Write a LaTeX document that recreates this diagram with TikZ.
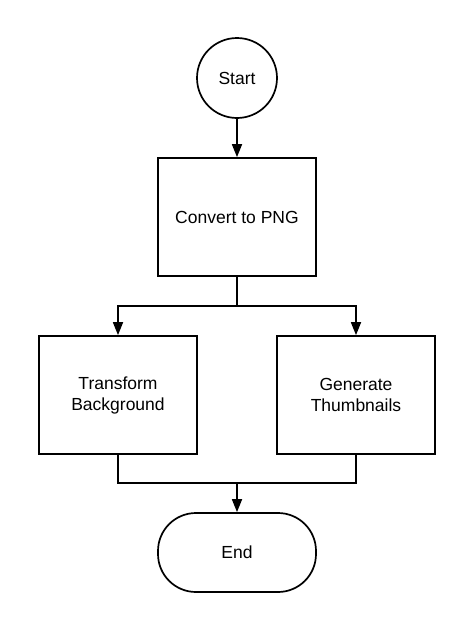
\documentclass[tikz,border=0pt]{standalone}
\usepackage{fontspec}
\setmainfont{Liberation Sans}
\usetikzlibrary{arrows.meta}
\begin{document}
\begin{tikzpicture}[x=1pt,y=-1pt,
  every node/.style={font=\fontsize{17.5}{21}\selectfont, align=center, line width=1.7pt, draw=black},
  proc/.style={rectangle, minimum width=158pt, minimum height=118pt},
  conn/.style={line width=1.7pt, -{Triangle[length=13pt,width=10pt]}},
  plain/.style={line width=1.7pt}]
\useasboundingbox (0,0) rectangle (474,632);
\node[circle, minimum size=80pt, inner sep=0pt] (start) at (237,78) {Start};
\node[proc] (conv) at (237,217) {Convert to PNG};
\node[proc] (tb) at (118,395) {Transform\\Background};
\node[proc] (gt) at (356,395) {Generate\\Thumbnails};
\node[rectangle, rounded corners=38pt, minimum width=158pt, minimum height=79pt] (end) at (237,552.5) {End};
\coordinate (split) at (237,306);
\coordinate (join) at (237,483);
\draw[conn] (start) -- (conv);
\draw[plain] (conv.south) -- (split);
\draw[conn] (split) -| (tb.north);
\draw[conn] (split) -| (gt.north);
\draw[plain] (tb.south) |- (join);
\draw[plain] (gt.south) |- (join);
\draw[conn] (join) -- (end.north);
\end{tikzpicture}
\end{document}
